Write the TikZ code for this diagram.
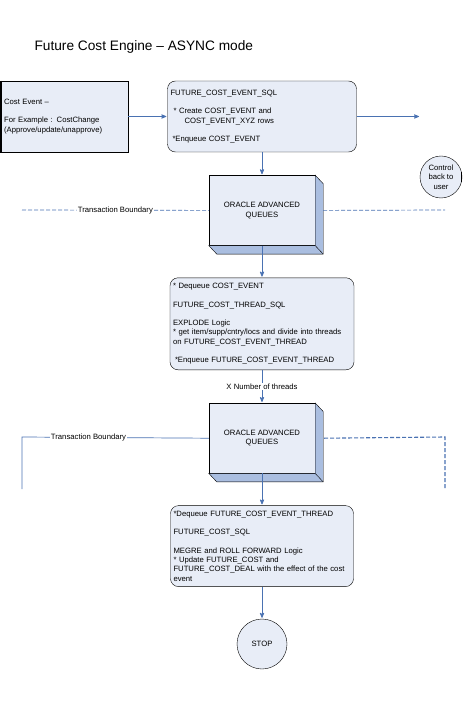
\documentclass[tikz,border=0pt]{standalone}
\usepackage{fontspec}
\setmainfont{Liberation Sans}
\usetikzlibrary{arrows,positioning}
\definecolor{boxfill}{HTML}{E8EDF7}
\definecolor{sidefill}{HTML}{AABEE0}
\definecolor{linkblue}{HTML}{4A72B2}
\tikzset{
>=stealth',
small/.style={font=\fontsize{7.7}{9.3}\selectfont},
title/.style={font=\fontsize{13.7}{16}\selectfont},
punkt/.style={ rectangle, rounded corners=8pt, draw=black, fill=boxfill, inner sep=3pt, align=left, small},
eventbox/.style={ rectangle, draw=black, fill=boxfill, inner sep=4pt, text width=120pt, minimum height=71pt, align=left, small},
queue/.style={ rectangle, draw=black, fill=boxfill, minimum width=106pt, minimum height=70pt, align=center, small},
side/.style={ fill=sidefill, draw=black},
round/.style={ circle, draw=black, fill=boxfill, align=center, inner sep=1pt, small},
line/.style={draw=linkblue, line width=0.8pt, ->, shorten >=1pt},
txline/.style={draw=linkblue, line width=0.7pt},
txdash/.style={txline, dash pattern=on 4pt off 2pt},
txlabel/.style={fill=white, inner sep=1pt, small},
}
\begin{document}
\begin{tikzpicture}[x=1pt, y=-1pt, node distance=23pt]
\useasboundingbox (0,0) rectangle (471,711);

\node[title, anchor=base west] (title) at (31,51) {Future Cost Engine -- ASYNC mode};

% first row
\node[punkt, text width=183pt, minimum height=71pt] (eventsql) at (262,116.5)
  {FUTURE\_COST\_EVENT\_SQL\\[9pt]
   \hspace*{3pt}{}* Create COST\_EVENT and\\
   \hspace*{14pt}COST\_EVENT\_XYZ rows\\[9pt]
   \hspace*{2pt}{}*Enqueue COST\_EVENT};
\node[eventbox, left=39pt of eventsql] (costevent)
  {Cost Event --\\[9pt]
   For Example : CostChange\\
   (Approve/update/unapprove)};
\draw[line width=2pt] ([xshift=1pt]costevent.north west) -- ([xshift=1pt]costevent.south west);
\coordinate (ctrlin) at (420,116.5);
\node[round, minimum size=42pt] (ctrl) at (441,177) {Control\\back to\\user};
\draw[line width=1.5pt] (ctrl.-14) -- (ctrl.14);

% queue 1
\node[queue, below=of eventsql] (queue1) {ORACLE ADVANCED\\QUEUES};
\filldraw[side] (queue1.south west) -- ([shift={(8,8.5)}]queue1.south west) -- ([shift={(8,8.5)}]queue1.south east)
  -- ([shift={(8,8.5)}]queue1.north east) -- (queue1.north east) -- (queue1.south east) -- cycle;
\draw (queue1.south east) -- ([shift={(8,8.5)}]queue1.south east);

\node[punkt, text width=178pt, minimum height=92pt, below=32pt of queue1] (threadsql)
  {{}* Dequeue COST\_EVENT\\[9pt]
   FUTURE\_COST\_THREAD\_SQL\\[9pt]
   EXPLODE Logic\\
   {}* get item/supp/cntry/locs and divide into threads\\
   on FUTURE\_COST\_EVENT\_THREAD\\[9pt]
   \hspace*{2pt}{}*Enqueue FUTURE\_COST\_EVENT\_THREAD};

% queue 2
\node[queue, below=33pt of threadsql] (queue2) {ORACLE ADVANCED\\QUEUES};
\filldraw[side] (queue2.south west) -- ([shift={(8,8.5)}]queue2.south west) -- ([shift={(8,8.5)}]queue2.south east)
  -- ([shift={(8,8.5)}]queue2.north east) -- (queue2.north east) -- (queue2.south east) -- cycle;
\draw (queue2.south east) -- ([shift={(8,8.5)}]queue2.south east);

\node[punkt, text width=177pt, minimum height=81pt, below=32pt of queue2] (costsql)
  {{}*Dequeue FUTURE\_COST\_EVENT\_THREAD\\[9pt]
   FUTURE\_COST\_SQL\\[9pt]
   MEGRE and ROLL FORWARD Logic\\
   {}* Update FUTURE\_COST and\\
   FUTURE\_COST\_DEAL with the effect of the cost\\
   event};
\node[round, minimum size=50pt, below=32pt of costsql] (stop) {STOP};

% connectors
\path[line] (costevent) -- (eventsql);
\path[line] (eventsql) -- (ctrlin);
\path[line] (eventsql) -- (queue1);
\path[line] (queue1) -- (threadsql);
\path[line] (threadsql) -- node[txlabel] (nthreads) {X Number of threads} (queue2);
\path[line] (queue2) -- (costsql);
\path[line] (costsql) -- (stop);

% transaction boundaries
\coordinate (tbone west) at (22,210);
\coordinate (tbone east) at (445,210);
\coordinate (tbtwo nw) at (22,437);
\coordinate (tbtwo sw) at (22,489);
\coordinate (tbtwo ne) at (445,437);
\coordinate (tbtwo se) at (445,489);
\draw[txdash] (tbone west) -- (queue1.west) node[txlabel, pos=.5] (tbone) {Transaction Boundary};
\draw[txdash] ([xshift=8pt]queue1.east) -- (tbone east);
\draw[txline] (tbtwo sw) -- (tbtwo nw) -- (queue2.west) node[txlabel, pos=.356] (tbtwo) {Transaction Boundary};
\draw[txdash, line width=1.1pt] ([xshift=9pt]queue2.east) -- (tbtwo ne) -- (tbtwo se);

\end{tikzpicture}
\end{document}
